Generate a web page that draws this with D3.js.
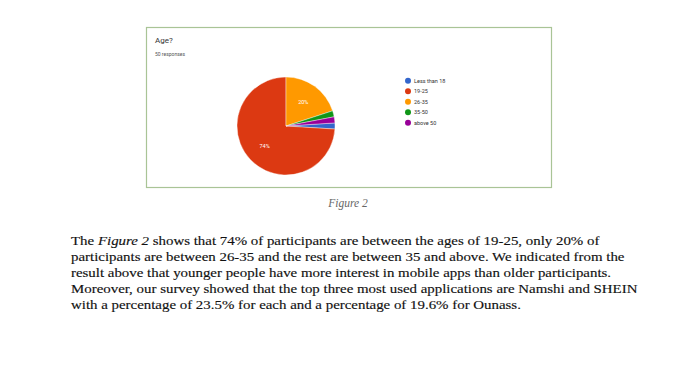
<!DOCTYPE html>
<html><head><meta charset="utf-8">
<script src="https://cdn.jsdelivr.net/npm/d3@7"></script>
<style>body{margin:0;background:#fff;}</style>
</head><body>
<svg id="c" width="700" height="365"></svg>
<script>
const categories = ["Less than 18", "19-25", "26-35", "35-50", "above 50"];
const values = [2, 74, 20, 2, 2];
const colors = ["#3366cc", "#dc3912", "#ff9900", "#109618", "#990099"];
const shownLabels = ["", "74%", "20%", "", ""];
const paragraph = [
  [{t:"The "},{t:"Figure 2",i:true},{t:" shows that 74% of participants are between the ages of 19-25, only 20% of"}],
  [{t:"participants are between 26-35 and the rest are between 35 and above. We indicated from the"}],
  [{t:"result above that younger people have more interest in mobile apps than older participants."}],
  [{t:"Moreover, our survey showed that the top three most used applications are Namshi and SHEIN"}],
  [{t:"with a percentage of 23.5% for each and a percentage of 19.6% for Ounass."}]
];

const svg = d3.select("#c");
svg.append("rect").attr("x",146.5).attr("y",27.5).attr("width",405).attr("height",160)
  .attr("fill","#fff").attr("stroke","#a9c496").attr("stroke-width",1.2);
svg.append("text").attr("x",155).attr("y",43).attr("font-family","Roboto, Arial, sans-serif")
  .attr("font-size",8).attr("fill","#333").text("Age?");
svg.append("text").attr("x",155).attr("y",56).attr("font-family","Roboto, Arial, sans-serif")
  .attr("font-size",5).attr("fill","#555").text("50 responses");

const cx = 286, cy = 126, r = 49;
const start = 86.4 * Math.PI / 180;
const pie = d3.pie().sort(null).startAngle(start).endAngle(start + 2*Math.PI);
const arcs = pie(values);
const arc = d3.arc().innerRadius(0).outerRadius(r);
const g = svg.append("g").attr("transform",`translate(${cx},${cy})`);
g.selectAll("path").data(arcs).join("path").attr("d",arc)
  .attr("fill",(d,i)=>colors[i]).attr("stroke","#fff").attr("stroke-width",0.4);
const lab = d3.arc().innerRadius(r*0.6).outerRadius(r*0.6);
g.selectAll("text.l").data(arcs).join("text").attr("class","l")
  .attr("transform",d=>`translate(${lab.centroid(d)})`)
  .attr("text-anchor","middle").attr("dy","0.35em")
  .attr("font-family","Roboto, Arial, sans-serif").attr("font-size",5.5).attr("fill","#fff")
  .text((d,i)=>shownLabels[i]);

const leg = svg.append("g").attr("transform","translate(408,80.7)");
const ly = d3.scalePoint().domain(categories).range([0,42]);
categories.forEach((c,i)=>{
  leg.append("circle").attr("cx",0).attr("cy",ly(c)).attr("r",3).attr("fill",colors[i]);
  leg.append("text").attr("x",6).attr("y",ly(c)).attr("dy","0.35em")
    .attr("font-family","Roboto, Arial, sans-serif").attr("font-size",5.5).attr("fill","#333").text(c);
});

svg.append("text").attr("x",348).attr("y",207).attr("text-anchor","middle")
  .attr("font-family","'Liberation Serif', 'Times New Roman', serif").attr("font-style","italic")
  .attr("font-size",11.5).attr("fill","#666").text("Figure 2");

const ty = d3.scaleLinear().domain([0,1]).range([245,261]);
const pg = svg.append("g").attr("transform","translate(71,0) scale(1.113,1)");
paragraph.forEach((line,k)=>{
  const t = pg.append("text").attr("x",0).attr("y",ty(k))
    .attr("font-family","'Liberation Serif', 'Times New Roman', serif")
    .attr("font-size",13.4).attr("fill","#111")
    .attr("stroke","#111").attr("stroke-width",0.15);
  line.forEach(s=>{
    t.append("tspan").attr("font-style",s.i?"italic":"normal").text(s.t);
  });
});
</script>
</body></html>
